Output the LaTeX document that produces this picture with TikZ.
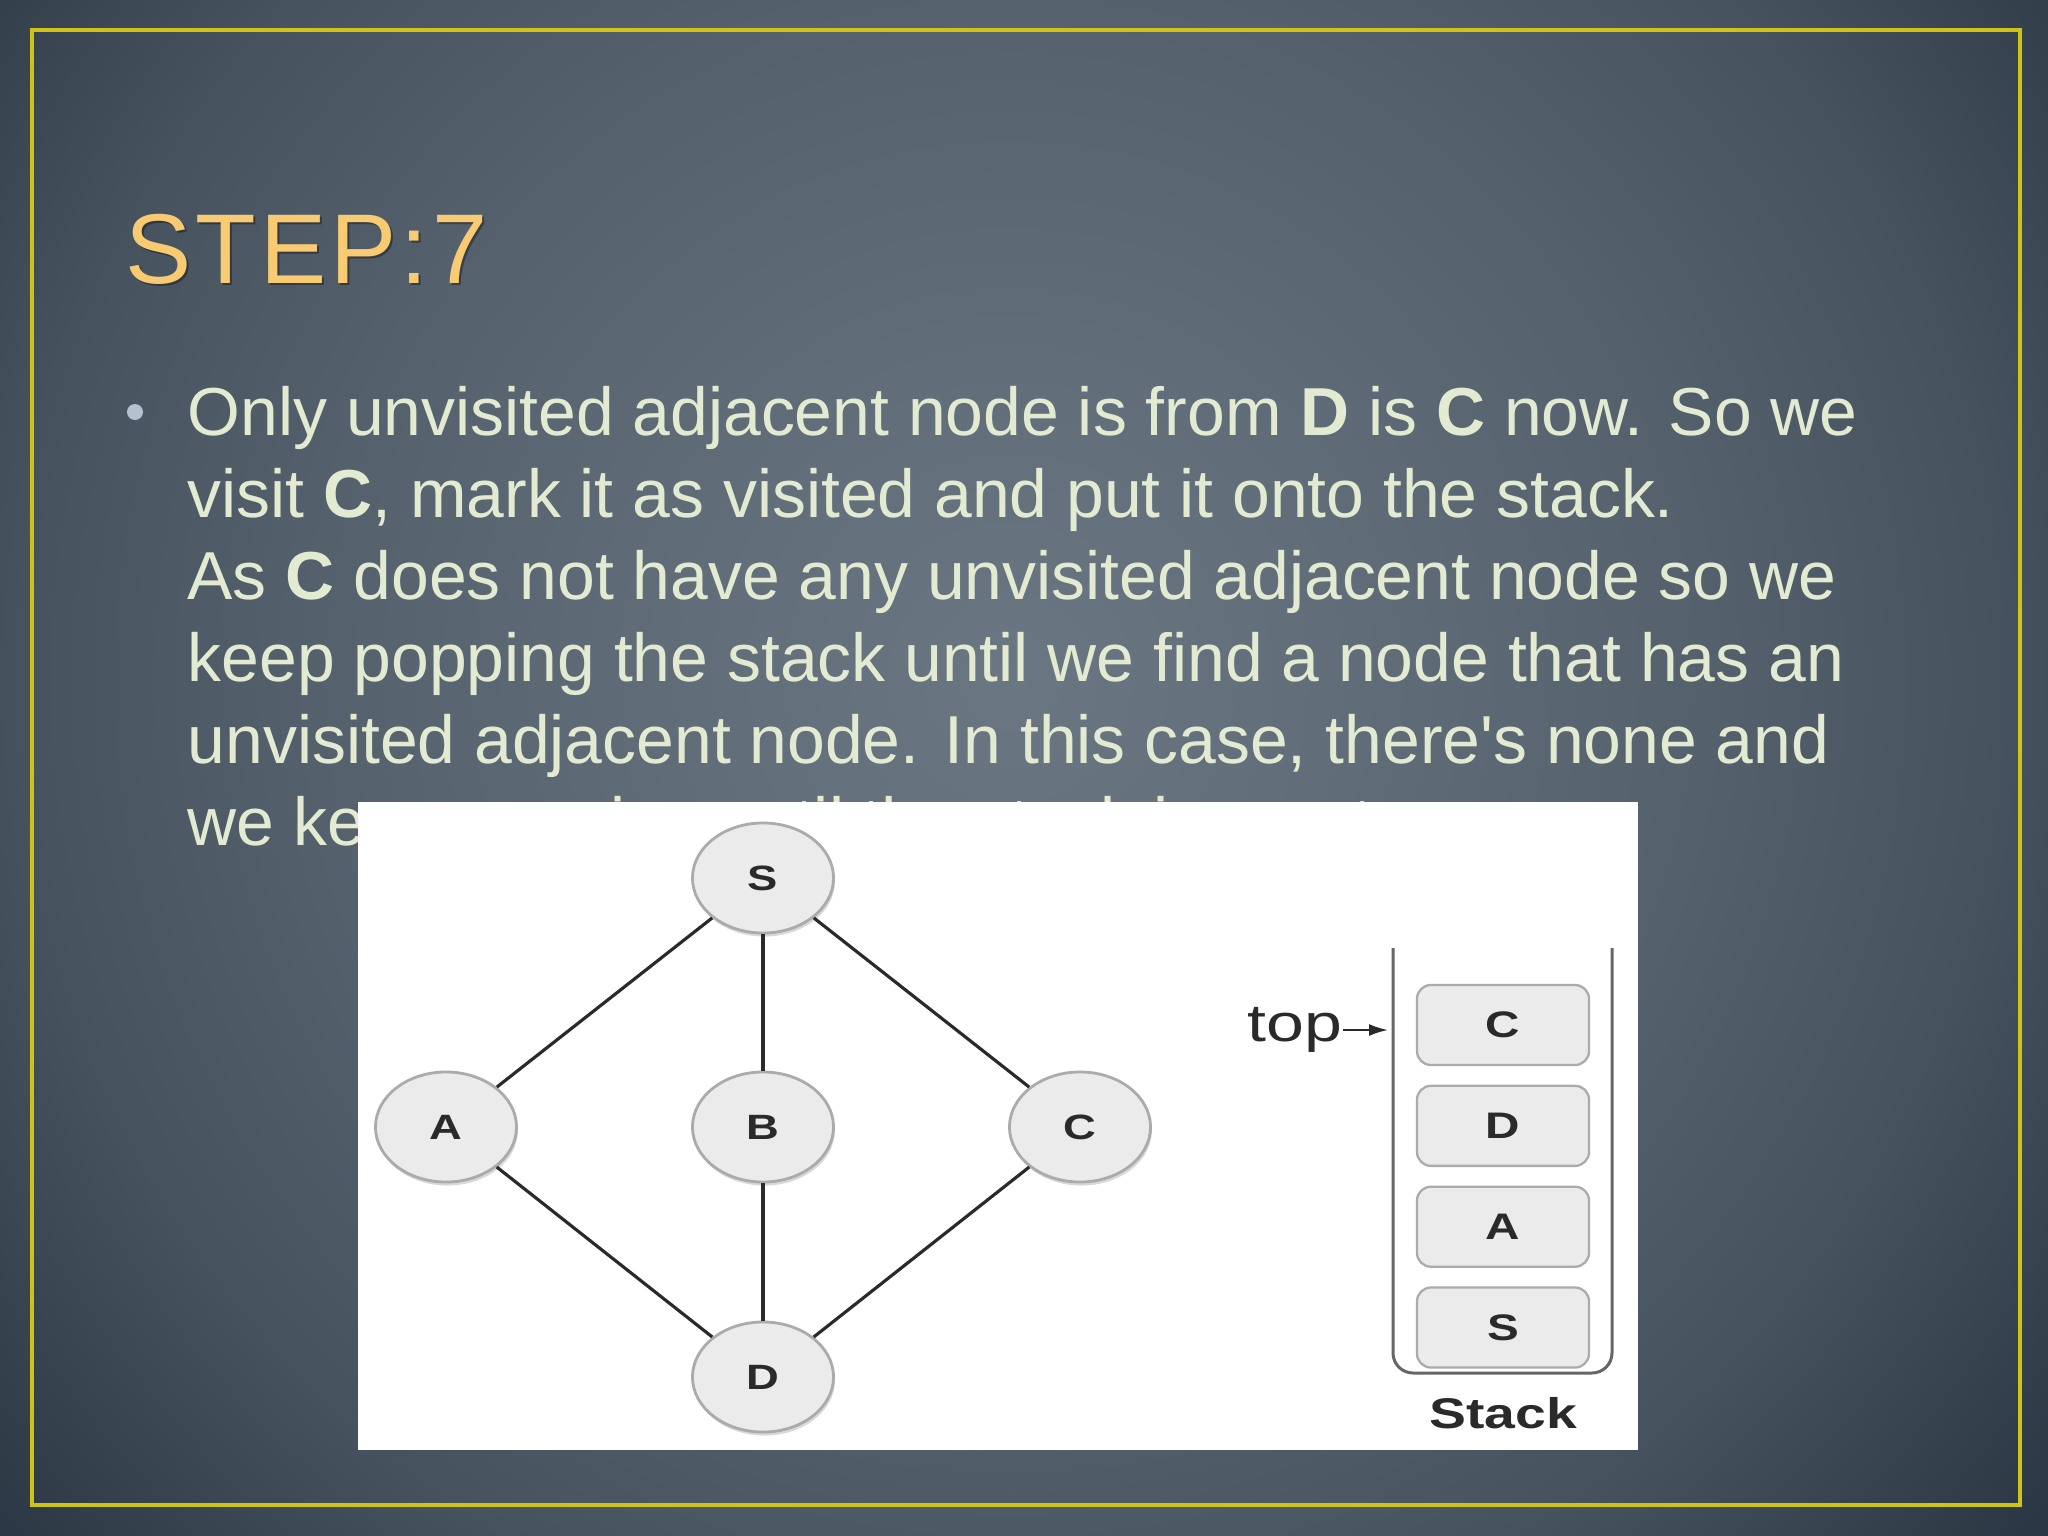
\documentclass[tikz,border=0pt]{standalone}
\usepackage{fontspec}
\usepackage{graphicx}
\setmainfont{Liberation Sans}
\usetikzlibrary{arrows.meta,positioning,shapes.geometric,shadows}
\definecolor{bgA}{HTML}{6A7681}
\definecolor{bgB}{HTML}{606C78}
\definecolor{bgC}{HTML}{54606C}
\definecolor{bgD}{HTML}{47525F}
\definecolor{bgE}{HTML}{36414E}
\definecolor{bgF}{HTML}{24303D}
\definecolor{bgG}{HTML}{111D29}
\definecolor{frameyel}{HTML}{CFC31A}
\definecolor{titleyel}{HTML}{F8CB72}
\definecolor{bodytxt}{HTML}{E2EBD2}
\definecolor{bulletgray}{HTML}{B5C1CF}
\definecolor{vfill}{HTML}{EBEBEB}
\definecolor{vline}{HTML}{ABABAB}
\definecolor{inkgray}{HTML}{2A2A2A}
\newcommand{\imgtxt}[1]{\scalebox{1.29}[1]{#1}}
\pgfdeclareradialshading{slidebg}{\pgfpoint{0bp}{0bp}}{color(0bp)=(bgA); color(7bp)=(bgB); color(14bp)=(bgC); color(19.8bp)=(bgD); color(24bp)=(bgE); color(28.3bp)=(bgF); color(35.4bp)=(bgG); color(50bp)=(bgG)}

\begin{document}
\begin{tikzpicture}[x=0.01cm,y=-0.01cm,
  bodyln/.style={anchor=base west,inner sep=0pt,text=bodytxt,font=\fontsize{19.3}{23.3}\selectfont},
  vtx/.style={ellipse,draw=vline,fill=vfill,line width=0.8pt,minimum width=1.41cm,minimum height=1.1cm,inner sep=0pt,
    drop shadow={opacity=0.3,shadow xshift=0.4pt,shadow yshift=-1pt},
    text=inkgray,font=\fontsize{10}{12}\selectfont\bfseries},
  cell/.style={rectangle,rounded corners=0.14cm,draw=vline,fill=vfill,line width=0.65pt,minimum width=1.72cm,minimum height=0.8cm,
    inner sep=0pt,text=inkgray,font=\fontsize{10.5}{12}\selectfont\bfseries},
  edge/.style={draw=inkgray,line width=0.9pt}]
\useasboundingbox (0,0) rectangle (2048,1536);
% backdrop, light patch a little above the middle
\begin{scope}
\clip (0,0) rectangle (2048,1536);
\shade[shading=slidebg] (-240,-570) rectangle (2260,1930);
\end{scope}
\draw[frameyel,line width=1.15pt] (32,30) rectangle (2020,1505);

% heading
\node[anchor=base west,inner sep=0pt,text=black,opacity=0.35,font=\fontsize{28.2}{30}\selectfont\addfontfeature{LetterSpace=4}] (titleshadow) at (127,285) {STEP:7};
\node[anchor=base west,inner sep=0pt,text=titleyel,font=\fontsize{28.2}{30}\selectfont\addfontfeature{LetterSpace=4}] (title) at (125,283) {STEP:7};

% bullet text
\node[circle,fill=bulletgray,minimum size=0.16cm,inner sep=0pt] (bul) at (135,412) {};
\node[bodyln] (l1) at (187,435) {Only unvisited adjacent node is from \textbf{D} is \textbf{C} now. So we};
\node[bodyln] (l2) at (187,517) {visit \textbf{C}, mark it as visited and put it onto the stack.};
\node[bodyln] (l3) at (187,599) {As \textbf{C} does not have any unvisited adjacent node so we};
\node[bodyln] (l4) at (187,681) {keep popping the stack until we find a node that has an};
\node[bodyln] (l5) at (187,763) {unvisited adjacent node. In this case, there\textquotesingle s none and};
\node[bodyln] (l6) at (187,845) {we keep popping until the stack is empty.};

% picture panel
\fill[white] (358,802) rectangle (1638,1450);

% graph
\node[vtx] (nS) at (763,878) {\imgtxt{S}};
\node[vtx] (nA) at (446,1127) {\imgtxt{A}};
\node[vtx] (nB) at (763,1127) {\imgtxt{B}};
\node[vtx] (nC) at (1080,1127) {\imgtxt{C}};
\node[vtx] (nD) at (763,1377) {\imgtxt{D}};
\draw[edge] (nS) -- (nA);
\draw[edge] (nS) -- (nB);
\draw[edge] (nS) -- (nC);
\draw[edge] (nA) -- (nD);
\draw[edge] (nB) -- (nD);
\draw[edge] (nC) -- (nD);

% stack
\draw[draw=gray!80!black,line width=0.85pt,rounded corners=0.2cm] (1393,948) -- (1393,1373) -- (1612,1373) -- (1612,948);
\node[cell] (kC) at (1503,1025) {\imgtxt{C}};
\node[cell,below=0.185cm of kC] (kD) {\imgtxt{D}};
\node[cell,below=0.185cm of kD] (kA) {\imgtxt{A}};
\node[cell,below=0.185cm of kA] (kS) {\imgtxt{S}};
\node[anchor=east,inner sep=0pt,text=inkgray,font=\fontsize{15}{17}\selectfont] (toplbl) at (1343,1030) {\imgtxt{top}};
\coordinate[right=0.45cm of toplbl] (topend);
\draw[inkgray,line width=0.6pt,-{Latex[length=0.19cm,width=0.12cm]}] (toplbl) -- (topend);
\node[text=inkgray,inner sep=0pt,font=\fontsize{12.2}{14}\selectfont\bfseries] (stacklbl) at (1503,1413) {\imgtxt{Stack}};
\end{tikzpicture}
\end{document}
